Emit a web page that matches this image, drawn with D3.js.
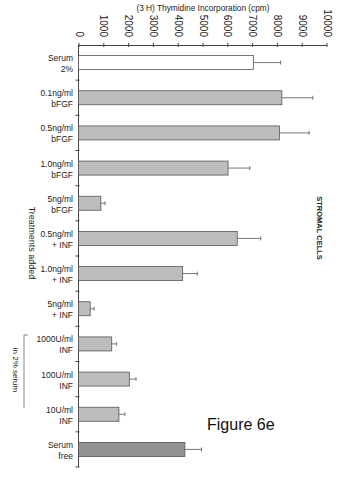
<!DOCTYPE html>
<html>
<head>
<meta charset="utf-8">
<title>Figure 6e</title>
<style>
  body { margin: 0; background: #fff; }
  svg { display: block; font-family: "Liberation Sans", Arial, sans-serif; }
</style>
</head>
<body>
<div id="chart"></div>
<script src="https://d3js.org/d3.v7.min.js"></script>
<script>

// treatments, top to bottom (two text lines each)
var line1 = ["Serum", "0.1ng/ml", "0.5ng/ml", "1.0ng/ml", "5ng/ml", "0.5ng/ml", "1.0ng/ml", "5ng/ml", "1000U/ml", "100U/ml", "10U/ml", "Serum"];
var line2 = ["2%", "bFGF", "bFGF", "bFGF", "bFGF", "+ INF", "+ INF", "+ INF", "INF", "INF", "INF", "free"];
// mean cpm and error (upper whisker)
var cpm = [7050, 8200, 8100, 6030, 900, 6400, 4200, 470, 1340, 2050, 1630, 4290];
var err = [1100, 1250, 1200, 880, 170, 950, 590, 160, 200, 270, 240, 670];
var fills = ["#ffffff", "#bdbdbd", "#bdbdbd", "#bdbdbd", "#bdbdbd", "#bdbdbd", "#bdbdbd", "#bdbdbd", "#bdbdbd", "#bdbdbd", "#bdbdbd", "#939393"];
var xTicks = [0, 1000, 2000, 3000, 4000, 5000, 6000, 7000, 8000, 9000, 10000];

var width = 348, height = 500;

var svg = d3.select("#chart").append("svg")
    .attr("width", width)
    .attr("height", height);

var ids = d3.range(cpm.length);

var x = d3.scaleLinear().domain([0, 10000]).range([78.5, 326.5]);
var y = d3.scaleBand().domain(ids).range([45, 467]).padding(0);
var barH = 14;

// title
svg.append("text")
    .attr("x", 203).attr("y", 11)
    .attr("text-anchor", "middle")
    .style("font-size", "8.3px")
    .style("fill", "#222")
    .text("(3 H) Thymidine Incorporation (cpm)");

// top axis
var gx = svg.append("g")
    .attr("transform", "translate(0,45)")
    .call(d3.axisTop(x).tickValues(xTicks).tickFormat(d3.format("d")).tickSize(2).tickSizeOuter(0));
gx.select(".domain").attr("stroke", "#444");
gx.selectAll(".tick line").attr("y1", -2).attr("y2", 2).attr("stroke", "#444");
gx.selectAll(".tick text")
    .attr("transform", "rotate(90)")
    .attr("x", -8).attr("y", 0).attr("dy", "0.35em")
    .attr("text-anchor", "end")
    .style("font-size", "10px")
    .style("fill", "#222");

// left axis (line with ticks between groups)
svg.append("line")
    .attr("x1", x(0)).attr("x2", x(0))
    .attr("y1", y.range()[0]).attr("y2", y.range()[1])
    .attr("stroke", "#444");
svg.append("g").selectAll("line")
    .data(ids.slice(1).map(function(i){ return y(i); }).concat([y.range()[1]]))
    .enter().append("line")
    .attr("x1", x(0) - 3).attr("x2", x(0) + 1)
    .attr("y1", function(d){ return d; }).attr("y2", function(d){ return d; })
    .attr("stroke", "#444");

// bars
svg.append("g").selectAll("rect")
    .data(ids)
    .enter().append("rect")
    .attr("x", x(0))
    .attr("y", function(i){ return y(i) + (y.bandwidth() - barH) / 2; })
    .attr("width", function(i){ return x(cpm[i]) - x(0); })
    .attr("height", barH)
    .attr("fill", function(i){ return fills[i]; })
    .attr("stroke", "#555")
    .attr("stroke-width", 0.8);

// error bars
var eb = svg.append("g").attr("stroke", "#555").attr("stroke-width", 0.8);
ids.forEach(function(i){
    var cy = y(i) + y.bandwidth() / 2;
    eb.append("line")
        .attr("x1", x(cpm[i])).attr("x2", x(cpm[i] + err[i]))
        .attr("y1", cy).attr("y2", cy);
    eb.append("line")
        .attr("x1", x(cpm[i] + err[i])).attr("x2", x(cpm[i] + err[i]))
        .attr("y1", cy - 2).attr("y2", cy + 2);
});

// category labels
var lab = svg.append("g").selectAll("text")
    .data(ids)
    .enter().append("text")
    .attr("text-anchor", "end")
    .style("font-size", "8.5px")
    .style("fill", "#222");
lab.append("tspan")
    .attr("x", 73)
    .attr("y", function(i){ return y(i) + y.bandwidth() / 2 - 1.5; })
    .text(function(i){ return line1[i]; });
lab.append("tspan")
    .attr("x", 73)
    .attr("y", function(i){ return y(i) + y.bandwidth() / 2 + 9.5; })
    .text(function(i){ return line2[i]; });

// side notes
svg.append("text")
    .attr("transform", "translate(29,243) rotate(90)")
    .attr("text-anchor", "middle")
    .style("font-size", "9px")
    .style("fill", "#222")
    .text("Treatments added");

svg.append("path")
    .attr("d", "M28,335 H24 V408")
    .attr("fill", "none")
    .attr("stroke", "#666")
    .attr("stroke-width", 0.8);
svg.append("text")
    .attr("transform", "translate(13,370) rotate(90)")
    .attr("text-anchor", "middle")
    .style("font-size", "8px")
    .style("fill", "#222")
    .text("in 2% serum");

svg.append("text")
    .attr("transform", "translate(317,228) rotate(90)")
    .attr("text-anchor", "middle")
    .style("font-size", "7.5px")
    .style("font-weight", "bold")
    .style("fill", "#222")
    .text("STROMAL CELLS");

svg.append("text")
    .attr("x", 207).attr("y", 430)
    .style("font-size", "16px")
    .style("fill", "#111")
    .text("Figure 6e");

</script>
</body>
</html>
